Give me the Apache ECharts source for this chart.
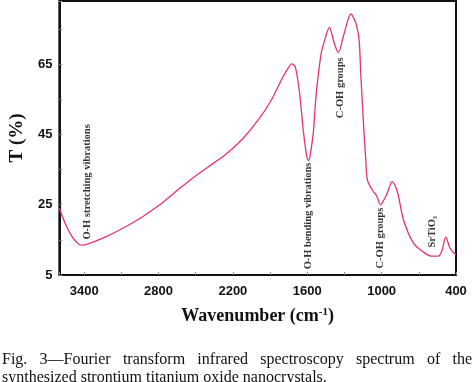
<!DOCTYPE html>
<html>
<head>
<meta charset="utf-8">
<script src="https://cdn.jsdelivr.net/npm/echarts@6/dist/echarts.min.js"></script>
<style>
  html, body { margin: 0; padding: 0; background: #fff; }
  #wrap { position: relative; width: 474px; height: 382px; overflow: hidden; }
  #chart { position: absolute; left: 0; top: 0; width: 474px; height: 382px; }
  #caption {
    position: absolute; left: 2px; top: 350px; width: 470px;
    font-family: "Liberation Serif", "DejaVu Serif", serif; font-size: 16px;
    line-height: 17.5px; color: #111; text-align: justify;
  }
</style>
</head>
<body>
<div id="wrap">
  <div id="chart"></div>
  <div id="caption">Fig. 3—Fourier transform infrared spectroscopy spectrum of the synthesized strontium titanium oxide nanocrystals.</div>
</div>
<script>
// Wavenumber (cm-1) and transmittance T (%)
const wavenumbers = [3600, 3542, 3488, 3440, 3410, 3355, 3222, 3062, 2928, 2794, 2662, 2528, 2394, 2262, 2128, 1994, 1888, 1808, 1754, 1722, 1696, 1662, 1630, 1605, 1590, 1575, 1550, 1528, 1488, 1462, 1422, 1382, 1350, 1302, 1248, 1208, 1182, 1168, 1142, 1128, 1115, 1075, 1040, 1008, 980, 955, 915, 875, 822, 742, 662, 600, 542, 515, 482, 448, 400];
const transmittance = [24.0, 18.8, 15.4, 13.7, 13.5, 14.0, 15.9, 18.8, 21.6, 24.9, 28.7, 32.5, 35.9, 39.2, 43.5, 49.2, 54.9, 60.6, 63.9, 65.1, 64.2, 56.8, 45.5, 39.0, 37.6, 39.4, 46.0, 56.5, 68.0, 71.5, 75.5, 71.0, 68.3, 73.8, 79.3, 76.7, 72.0, 62.0, 45.4, 37.8, 32.1, 29.2, 27.5, 25.0, 26.5, 28.3, 31.6, 29.0, 20.5, 14.0, 11.5, 10.4, 10.4, 11.8, 15.8, 12.6, 10.7];

// Tick labels
const xTickLabels = [3400, 2800, 2200, 1600, 1000, 400];
const yTickLabels = [5, 25, 45, 65];

// Band annotations: text, wavenumber, T
const annoTexts = ['O-H stretching vibrations', 'O-H bending vibrations', 'C-OH groups', 'C-OH groups', 'SrTiO₃'];
const annoX = [3376, 1594, 1336, 1008, 592];
const annoY = [31.5, 21.8, 58.3, 15.5, 17.3];

const lineData = wavenumbers.map((w, i) => [w, transmittance[i]]);
const annoData = annoTexts.map((t, i) => ({ value: [annoX[i], annoY[i]], name: t }));

const chart = echarts.init(document.getElementById('chart'), null, { renderer: 'canvas' });
chart.setOption({
  animation: false,
  backgroundColor: '#fff',
  grid: { left: 56, right: 18, top: 1, bottom: 107, show: true, borderColor: '#111', borderWidth: 2 },
  xAxis: {
    type: 'value', inverse: true, min: 400, max: 3600, interval: 300,
    name: '{a|Wavenumber (cm}{s|-1}{a|)}', nameLocation: 'middle', nameGap: 32,
    nameTextStyle: {
      rich: {
        a: { fontFamily: 'Liberation Serif', fontWeight: 'bold', fontSize: 18, color: '#111' },
        s: { fontFamily: 'Liberation Serif', fontWeight: 'bold', fontSize: 11, color: '#111', verticalAlign: 'top', padding: [0, 0, 8, 0] }
      }
    },
    axisLine: { show: true, lineStyle: { color: '#111', width: 2 } },
    axisTick: { show: true, inside: true, length: 3, lineStyle: { color: '#888' } },
    splitLine: { show: false },
    axisLabel: {
      margin: 10, fontFamily: 'Liberation Sans', fontWeight: 'bold', fontSize: 13, color: '#111',
      formatter: v => xTickLabels.includes(v) ? String(v) : ''
    }
  },
  yAxis: {
    type: 'value', min: 5, max: 83, interval: 10,
    name: 'T (%)', nameLocation: 'middle', nameGap: 28, nameRotate: 90,
    nameTextStyle: { fontFamily: 'Liberation Serif', fontWeight: 'bold', fontSize: 19, color: '#111' },
    axisLine: { show: true, lineStyle: { color: '#111', width: 2 } },
    axisTick: { show: true, inside: true, length: 3, lineStyle: { color: '#888' } },
    splitLine: { show: false },
    axisLabel: {
      margin: 7, fontFamily: 'Liberation Sans', fontWeight: 'bold', fontSize: 13, color: '#111',
      formatter: v => yTickLabels.includes(v) ? String(v) : ''
    }
  },
  series: [
    {
      type: 'line', data: lineData, smooth: 0.3, symbol: 'none',
      lineStyle: { color: '#e4346e', width: 1.3 }
    },
    {
      type: 'scatter', data: annoData, symbolSize: 0, silent: true,
      label: {
        show: true, position: 'inside', rotate: 90, formatter: p => p.name,
        fontFamily: 'Liberation Serif', fontWeight: 'bold', fontSize: 10.5, color: '#000'
      }
    }
  ]
});
</script>
</body>
</html>
